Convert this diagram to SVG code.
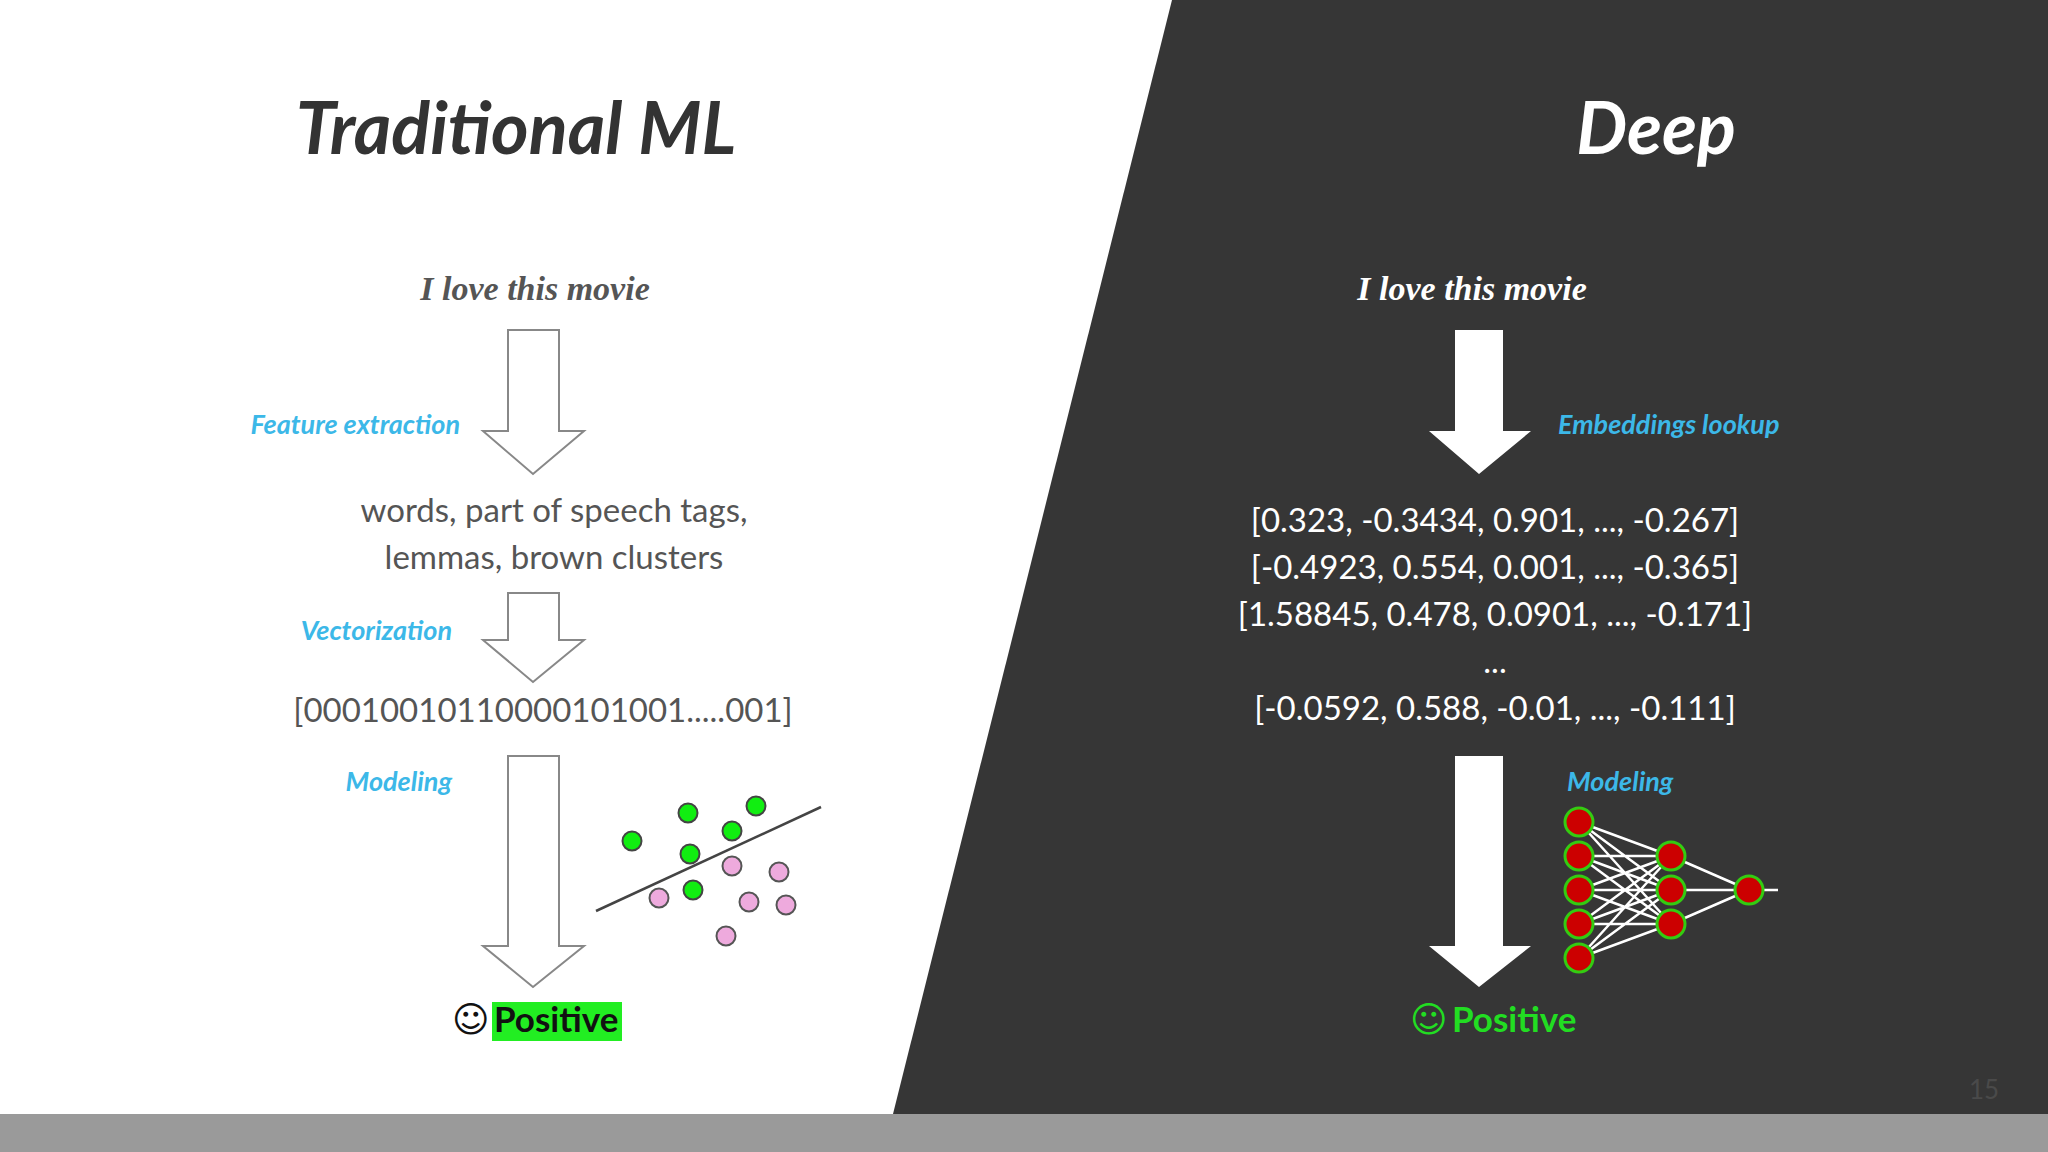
<svg xmlns="http://www.w3.org/2000/svg" width="2048" height="1152" viewBox="0 0 2048 1152">
<style>
.t{font-family:Lato,"Liberation Sans",sans-serif;font-weight:bold;font-style:italic;font-size:72px}
.s{font-family:"Liberation Serif",serif;font-style:italic;font-weight:bold;font-size:34px;text-anchor:middle}
.l{font-family:Lato,"Liberation Sans",sans-serif;font-weight:bold;font-style:italic;font-size:27px;fill:#3cb8e8}
.b{font-family:Lato,"Liberation Sans",sans-serif;font-size:33px;text-anchor:middle}
.ha{fill:#fff;stroke:#888;stroke-width:2}
.g{fill:#11ee11;stroke:#444;stroke-width:2}
.p{fill:#eeaadd;stroke:#555;stroke-width:2}
.n{fill:#cc0000;stroke:#33cc11;stroke-width:3}
.w{stroke:#fff;stroke-width:2.5}
</style>
<rect width="2048" height="1152" fill="#fff"/>
<polygon points="1172,0 2048,0 2048,1114 893,1114" fill="#363636"/>
<rect y="1114" width="2048" height="38" fill="#9a9a9a"/>
<text x="1984" y="1099" font-family="Lato,'Liberation Sans',sans-serif" font-size="26" fill="#4a4a4a" text-anchor="middle">15</text>
<g id="titles">
<text class="t" x="516" y="154" text-anchor="middle" fill="#333">Traditional ML</text>
<text class="t" x="1656" y="154" text-anchor="middle" fill="#fff">Deep</text>
</g>
<g id="inputs">
<text class="s" x="535" y="300" fill="#555">I love this movie</text>
<text class="s" x="1472" y="300" fill="#fff">I love this movie</text>
</g>
<g id="connectors">
<polygon class="ha" points="508,330 559,330 559,431 584,431 533,474 483,431 508,431"/>
<polygon class="ha" points="508,593 559,593 559,640 584,640 533,682 483,640 508,640"/>
<polygon class="ha" points="508,756 559,756 559,946 584,946 533,987 483,946 508,946"/>
<polygon fill="#fff" points="1455,330 1503,330 1503,431 1531,431 1479,474 1429,431 1455,431"/>
<polygon fill="#fff" points="1455,756 1503,756 1503,946 1531,946 1479,987 1429,946 1455,946"/>
</g>
<g id="labels">
<text class="l" x="460" y="434" text-anchor="end">Feature extraction</text>
<text class="l" x="452" y="640" text-anchor="end">Vectorization</text>
<text class="l" x="452" y="791" text-anchor="end">Modeling</text>
<text class="l" x="1558" y="434">Embeddings lookup</text>
<text class="l" x="1567" y="791">Modeling</text>
</g>
<g id="features">
<text class="b" x="554" y="522" fill="#555">words, part of speech tags,</text>
<text class="b" x="554" y="569" fill="#555">lemmas, brown clusters</text>
</g>
<g id="vector">
<text class="b" x="543" y="722" fill="#555" font-size="35">[00010010110000101001.....001]</text>
</g>
<g id="embeddings" fill="#fff">
<text class="b" x="1495" y="532" font-size="35">[0.323, -0.3434, 0.901, ..., -0.267]</text>
<text class="b" x="1495" y="579" font-size="35">[-0.4923, 0.554, 0.001, ..., -0.365]</text>
<text class="b" x="1495" y="626" font-size="35">[1.58845, 0.478, 0.0901, ..., -0.171]</text>
<text class="b" x="1495" y="673" font-size="35">...</text>
<text class="b" x="1495" y="720" font-size="35">[-0.0592, 0.588, -0.01, ..., -0.111]</text>
</g>
<g id="scatter">
<line x1="596" y1="911" x2="821" y2="807" stroke="#444" stroke-width="2.5"/>
<circle class="g" cx="632" cy="841" r="9.5"/><circle class="g" cx="688" cy="813" r="9.5"/><circle class="g" cx="756" cy="806" r="9.5"/>
<circle class="g" cx="732" cy="831" r="9.5"/><circle class="g" cx="690" cy="854" r="9.5"/><circle class="g" cx="693" cy="890" r="9.5"/>
<circle class="p" cx="659" cy="898" r="9.5"/><circle class="p" cx="732" cy="866" r="9.5"/><circle class="p" cx="779" cy="872" r="9.5"/>
<circle class="p" cx="749" cy="902" r="9.5"/><circle class="p" cx="786" cy="905" r="9.5"/><circle class="p" cx="726" cy="936" r="9.5"/>
</g>
<g id="network">
<g class="w">
<path d="M1579,822L1671,856M1579,822L1671,890M1579,822L1671,924M1579,856L1671,856M1579,856L1671,890M1579,856L1671,924M1579,890L1671,856M1579,890L1671,890M1579,890L1671,924M1579,924L1671,856M1579,924L1671,890M1579,924L1671,924M1579,958L1671,856M1579,958L1671,890M1579,958L1671,924M1671,856L1749,890M1671,890L1749,890M1671,924L1749,890M1749,890L1778,890" fill="none"/>
</g>
<circle class="n" cx="1579" cy="822" r="14"/><circle class="n" cx="1579" cy="856" r="14"/><circle class="n" cx="1579" cy="890" r="14"/>
<circle class="n" cx="1579" cy="924" r="14"/><circle class="n" cx="1579" cy="958" r="14"/>
<circle class="n" cx="1671" cy="856" r="14"/><circle class="n" cx="1671" cy="890" r="14"/><circle class="n" cx="1671" cy="924" r="14"/>
<circle class="n" cx="1749" cy="890" r="14"/>
</g>
<g id="positive-left">
<rect x="492" y="1002" width="130" height="39" fill="#22ee22"/>
<text x="452" y="1032" font-family="'DejaVu Sans',sans-serif" font-size="36" fill="#111">☺</text>
<text x="494" y="1032" font-family="Lato,'Liberation Sans',sans-serif" font-weight="bold" font-size="35" fill="#111">Positive</text>
</g>
<g id="positive-right">
<text x="1410" y="1032" font-family="'DejaVu Sans',sans-serif" font-size="36" fill="#22dd22">☺</text>
<text x="1452" y="1032" font-family="Lato,'Liberation Sans',sans-serif" font-weight="bold" font-size="35" fill="#22dd22">Positive</text>
</g>
</svg>
